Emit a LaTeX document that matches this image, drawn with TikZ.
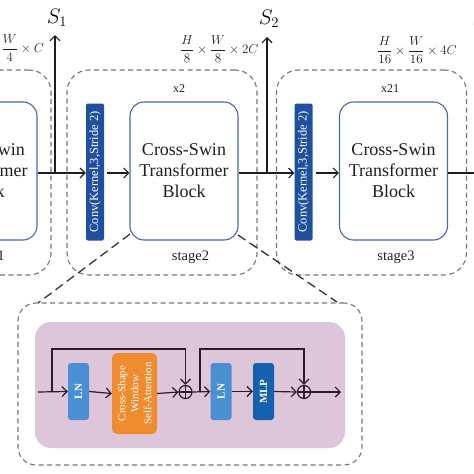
\RequirePackage{fix-cm}
\documentclass[tikz,border=0pt]{standalone}
\usepackage{fontspec}
\setmainfont{Liberation Serif}
\usetikzlibrary{arrows.meta,calc}
\definecolor{dashc}{HTML}{687888}
\definecolor{blockc}{HTML}{4A6A9C}
\definecolor{convc}{HTML}{1F4F9F}
\definecolor{lnc}{HTML}{4A8FD2}
\definecolor{mlpc}{HTML}{1462AD}
\definecolor{attc}{HTML}{EF8C30}
\definecolor{pinkc}{HTML}{DDC6DA}
\definecolor{linec}{HTML}{1E1E1E}
\definecolor{lowc}{HTML}{2B1B2B}
\definecolor{zoomc}{HTML}{333333}
\newcommand{\dfr}[2]{{\displaystyle\frac{\rule{0pt}{1.0em}#1}{\rule[-0.35em]{0pt}{0.35em}#2}}}
\begin{document}
\begin{tikzpicture}[x=1pt,y=-1pt,
  stagebox/.style={draw=dashc, line width=1.1pt, dash pattern=on 5pt off 3.5pt, rounded corners=22pt, minimum width=190pt, minimum height=205pt, inner sep=0pt},
  block/.style={draw=blockc, line width=1.1pt, rounded corners=14pt, fill=white, minimum width=108pt, minimum height=138pt, align=center, text=black!88, font=\fontsize{18}{21}\selectfont, inner sep=0pt},
  conv/.style={fill=convc, rounded corners=2pt, rotate=90, minimum width=137pt, minimum height=18pt, inner sep=0pt, text=white, font=\fontsize{12.5}{14}\selectfont},
  lab/.style={font=\fontsize{14.5}{16}\selectfont, text=black!88},
  rep/.style={font=\fontsize{12}{14}\selectfont, text=black!88},
  slab/.style={font=\fontsize{21}{24}\selectfont},
  frm/.style={font=\fontsize{13}{15}\selectfont, inner sep=0pt, text=black!88},
  arr/.style={draw=linec, line width=1.1pt, -{Straight Barb[length=5pt,width=10pt,line width=1.1pt]}},
  larr/.style={draw=lowc, line width=1.2pt, -{Straight Barb[length=5pt,width=10pt,line width=1.2pt]}},
  ln/.style={draw=linec, line width=1.1pt},
  zoomline/.style={draw=zoomc, line width=1.3pt, dash pattern=on 9pt off 5pt},
  smallbox/.style={rotate=90, rounded corners=3pt, inner sep=0pt, text=white, font=\fontsize{11}{13}\selectfont},
  oplus/.style={circle, draw=lowc, line width=1.2pt, minimum size=13pt, inner sep=0pt,
    path picture={\draw[lowc, line width=1.1pt] (path picture bounding box.north) -- (path picture bounding box.south) (path picture bounding box.west) -- (path picture bounding box.east);}}
]
\useasboundingbox (0,0) rectangle (474,474);
\clip (0,0) rectangle (474,474);

% ---------- upper part ----------
\coordinate (m) at (0,173);
\node[stagebox] (st1) at (-44,172.5) {};
\node[stagebox] (st2) at (162,172.5) {};
\node[stagebox] (st3) at (371.5,172.5) {};

\node[block] (b1) at (-17,171) {Cross-Swin\\Transformer\\Block};
\node[block] (b2) at (184,171) {Cross-Swin\\Transformer\\Block};
\node[block] (b3) at (393.5,171) {Cross-Swin\\Transformer\\Block};

\node[conv] (cv2) at (95,172) {Conv(Kernel,3,Stride 2)};
\node[conv] (cv3) at (303.5,172) {Conv(Kernel,3,Stride 2)};

\node[lab] (l1) at (-14,257) {stage1};
\node[lab] (l2) at (190.5,257) {stage2};
\node[lab] (l3) at (396,257) {stage3};
\node[rep] (r2) at (179,89) {x2};
\node[rep] (r3) at (390,89) {x21};

\coordinate (s1) at (55,35);
\coordinate (s2) at (267,37);
\coordinate (s3) at (481,37);
\node[slab] (S1) at (57,18) {$S_1$};
\node[slab] (S2) at (269,19) {$S_2$};
\node[slab] (S3) at (483,19) {$S_3$};

\node[frm, anchor=east] (f1) at (44,48) {$\dfr{H}{4}\times\dfr{W}{4}\times C$};
\node[frm, anchor=west] (f2) at (180,49) {$\dfr{H}{8}\times\dfr{W}{8}\times 2C$};
\node[frm, anchor=west] (f3) at (377,50) {$\dfr{H}{16}\times\dfr{W}{16}\times 4C$};

\draw[arr] (b1.east |- m) -- (cv2.north |- m);
\draw[arr] (s1 |- m) -- (s1);
\draw[arr, shorten <=3pt] (cv2.south |- m) -- (b2.west |- m);
\draw[arr] (b2.east |- m) -- (cv3.north |- m);
\draw[arr] (s2 |- m) -- (s2);
\draw[arr, shorten <=3pt] (cv3.south |- m) -- (b3.west |- m);
\draw[ln] (b3.east |- m) -- (s3 |- m);
\draw[arr] (s3 |- m) -- (s3);

% ---------- zoom lines ----------
\coordinate (z1) at (130,234);
\coordinate (z2) at (38,303);
\coordinate (z3) at (238,235);
\coordinate (z4) at (337,302);
\draw[zoomline] (z1) -- (z2);
\draw[zoomline] (z3) -- (z4);

% ---------- lower part ----------
\node[stagebox, minimum width=344pt, minimum height=162pt, rounded corners=18pt] (low) at (190,384) {};
\node[fill=pinkc, rounded corners=16pt, minimum width=310pt, minimum height=126pt, inner sep=0pt] (pink) at (190,385) {};

\node[smallbox, fill=lnc, minimum width=57pt, minimum height=21pt, font=\fontsize{11}{13}\selectfont\bfseries] (ln1) at (78.5,391.5) {LN};
\node[smallbox, fill=attc, rounded corners=5pt, minimum width=81pt, minimum height=45pt, align=center] (att) at (134.5,393.5) {Cross-Shape\\Window\\Self-Attention};
\node[oplus] (a1) at (185.5,392) {};
\node[smallbox, fill=lnc, minimum width=57pt, minimum height=21pt, font=\fontsize{11}{13}\selectfont\bfseries] (ln2) at (221,391.5) {LN};
\node[smallbox, fill=mlpc, minimum width=57pt, minimum height=21pt, font=\fontsize{11}{13}\selectfont\bfseries] (mlp) at (263.5,391.5) {MLP};
\node[oplus] (a2) at (304,392) {};

\coordinate (in0) at (38,392);
\coordinate (sk1) at (52,392);
\coordinate (sk2) at (200,392);
\coordinate (top) at (0,349);
\coordinate (out) at (341,392);

\draw[larr] (in0) -- (ln1.north);
\draw[larr] (ln1.south) -- (att.north);
\draw[larr] (att.south) -- (a1.west);
\draw[larr] (a1.east) -- (ln2.north);
\draw[larr] (ln2.south) -- (mlp.north);
\draw[larr] (mlp.south) -- (a2.west);
\draw[larr] (a2.east) -- (out);
\draw[larr] (sk1) |- (a1.north |- top) -- (a1.north);
\draw[larr] (sk2) |- (a2.north |- top) -- (a2.north);
\end{tikzpicture}
\end{document}
